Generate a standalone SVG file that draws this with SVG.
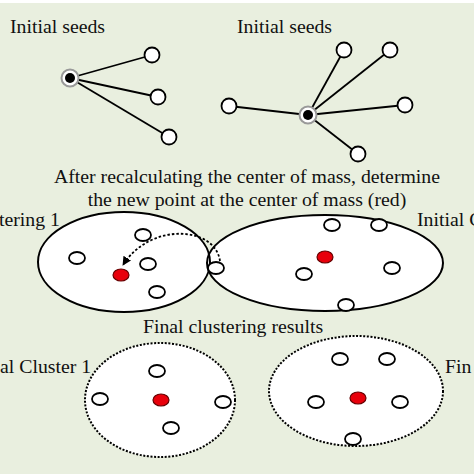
<svg xmlns="http://www.w3.org/2000/svg" width="474" height="474" viewBox="0 0 474 474">
<defs>
<style>
.t{font-family:"Liberation Serif","Times New Roman",serif;font-size:19.8px;fill:#111}
.n{fill:#fff;stroke:#000;stroke-width:1.8}
.r{fill:#e8000b;stroke:#600;stroke-width:1.2}
.e{fill:#fff;stroke:none}
.es{fill:none;stroke:#000;stroke-width:2}
.d{fill:#fff;stroke:#000;stroke-width:2;stroke-dasharray:2 1.6}
.l{stroke:#000;stroke-width:1.8;fill:none}
</style>
<marker id="ah" viewBox="0 0 10 10" refX="9" refY="5" markerWidth="5" markerHeight="5" orient="auto">
<path d="M0,0 L10,5 L0,10 z" fill="#000"/>
</marker>
</defs>
<rect width="474" height="474" fill="#e9efdf"/>
<rect width="474" height="3" fill="#fff"/>

<g id="labels">
<text class="t" x="10" y="33">Initial seeds</text>
<text class="t" x="237" y="33">Initial seeds</text>
<text class="t" x="247" y="183" text-anchor="middle">After recalculating the center of mass, determine</text>
<text class="t" x="247" y="206" text-anchor="middle">the new point at the center of mass (red)</text>
<text class="t" x="-1" y="226">tering 1</text>
<text class="t" x="417" y="226">Initial C</text>
<text class="t" x="233" y="333" text-anchor="middle">Final clustering results</text>
<text class="t" x="0" y="373">al Cluster 1</text>
<text class="t" x="445" y="373">Fin</text>
</g>

<g id="connectors">
<line class="l" x1="70" y1="78" x2="152" y2="55"/>
<line class="l" x1="70" y1="78" x2="158" y2="97"/>
<line class="l" x1="70" y1="78" x2="169" y2="137"/>
<line class="l" x1="308" y1="115" x2="229" y2="106"/>
<line class="l" x1="308" y1="115" x2="344" y2="50"/>
<line class="l" x1="308" y1="115" x2="390" y2="50"/>
<line class="l" x1="308" y1="115" x2="405" y2="105"/>
<line class="l" x1="308" y1="115" x2="358" y2="154"/>
</g>

<g id="seed1">
<circle cx="70" cy="78" r="8.5" fill="#fff" stroke="#999" stroke-width="2"/>
<circle cx="70" cy="78" r="5" fill="#000"/>
</g>
<g id="seed2">
<circle cx="308" cy="115" r="8.5" fill="#fff" stroke="#999" stroke-width="2"/>
<circle cx="308" cy="115" r="5" fill="#000"/>
</g>
<g id="top-points">
<circle class="n" cx="152" cy="55" r="7.5"/>
<circle class="n" cx="158" cy="97" r="7.5"/>
<circle class="n" cx="169" cy="137" r="7.5"/>
<circle class="n" cx="229" cy="106" r="7.5"/>
<circle class="n" cx="344" cy="50" r="7.5"/>
<circle class="n" cx="390" cy="50" r="7.5"/>
<circle class="n" cx="405" cy="105" r="7.5"/>
<circle class="n" cx="358" cy="154" r="7.5"/>
</g>

<g id="cluster1-initial">
<ellipse class="e" cx="124" cy="262" rx="86" ry="50"/>
</g>
<g id="cluster2-initial">
<ellipse class="e" cx="325" cy="263" rx="118" ry="48"/>
</g>
<g id="ellipse-outlines">
<ellipse class="es" cx="124" cy="262" rx="86" ry="50"/>
<ellipse class="es" cx="325" cy="263" rx="118" ry="48"/>
</g>
<g id="mid-points">
<ellipse class="n" cx="143" cy="235" rx="8" ry="6"/>
<ellipse class="n" cx="77" cy="258" rx="8" ry="6"/>
<ellipse class="n" cx="148" cy="264" rx="8" ry="6"/>
<ellipse class="n" cx="157" cy="292" rx="8" ry="6"/>
<ellipse class="r" cx="121" cy="275" rx="8" ry="6"/>
<ellipse class="n" cx="332" cy="225" rx="8" ry="6"/>
<ellipse class="n" cx="379" cy="225" rx="8" ry="6"/>
<ellipse class="r" cx="325" cy="257" rx="8" ry="6" stroke="none"/>
<ellipse class="n" cx="392" cy="268" rx="8" ry="6"/>
<ellipse class="n" cx="304" cy="274" rx="8" ry="6"/>
<ellipse class="n" cx="346" cy="305" rx="8" ry="6"/>
<ellipse class="n" cx="216" cy="268" rx="8" ry="6"/>
</g>
<g id="move-arrow">
<path d="M220,261 C215,226 150,222 123,265" fill="none" stroke="#000" stroke-width="1.8" stroke-dasharray="2.5 2" marker-end="url(#ah)"/>
</g>

<g id="cluster1-final">
<ellipse class="d" cx="160" cy="400" rx="75" ry="57"/>
<ellipse class="n" cx="157" cy="371" rx="8" ry="6"/>
<ellipse class="n" cx="100" cy="399" rx="8" ry="6"/>
<ellipse class="r" cx="161" cy="400" rx="8" ry="6"/>
<ellipse class="n" cx="223" cy="402" rx="8" ry="6"/>
<ellipse class="n" cx="171" cy="428" rx="8" ry="6"/>
</g>
<g id="cluster2-final">
<ellipse class="d" cx="356" cy="391" rx="87" ry="55"/>
<ellipse class="n" cx="340" cy="359" rx="8" ry="6"/>
<ellipse class="n" cx="387" cy="359" rx="8" ry="6"/>
<ellipse class="r" cx="358" cy="398" rx="8" ry="6"/>
<ellipse class="n" cx="316" cy="402" rx="8" ry="6"/>
<ellipse class="n" cx="400" cy="402" rx="8" ry="6"/>
<ellipse class="n" cx="353" cy="439" rx="8" ry="6"/>
</g>
</svg>
